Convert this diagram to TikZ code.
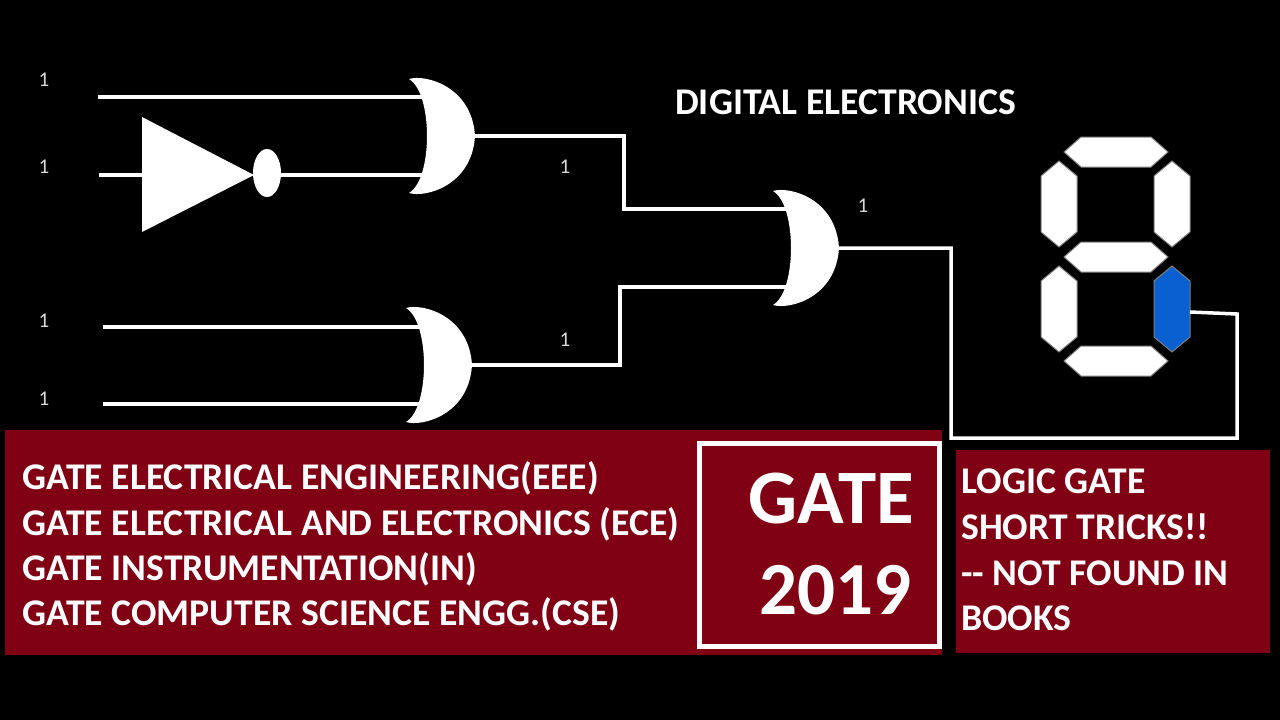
\documentclass[tikz,border=0pt]{standalone}
\usepackage{fontspec}
\setmainfont{Carlito}
\usetikzlibrary{shapes.geometric, positioning}

\definecolor{boxred}{RGB}{128,0,20}
\definecolor{segblue}{RGB}{10,96,208}

\tikzset{
    wire/.style={draw=white, line width=3.5pt, line join=miter},
    one/.style={text=white!85!black, font=\fontsize{21}{23}\selectfont},
    line/.style={text=white, anchor=base west, inner sep=0pt, font=\bfseries\fontsize{37.7}{40}\selectfont},
    big/.style={text=white, anchor=base east, inner sep=0pt, font=\bfseries\fontsize{77}{90}\selectfont},
    orgate/.pic={
        \fill[white] (-66,-57) .. controls (-50,-62) and (-3,-50) .. (0,0)
            .. controls (-3,50) and (-50,62) .. (-66,57)
            .. controls (-54,50) and (-48,25) .. (-48,0)
            .. controls (-48,-25) and (-54,-50) .. (-66,-57) -- cycle;
        \coordinate (-a) at (-53,-39);
        \coordinate (-b) at (-53,39);
        \coordinate (-out) at (0,0);
    },
    hseg/.pic={
        \draw[draw=gray, fill=white, line width=1pt] (-52,0) -- (-35,-15) -- (35,-15) -- (52,0) -- (35,15) -- (-35,15) -- cycle;
    },
    vseg/.pic={
        \draw[draw=gray, pic actions, line width=1pt] (0,-43) -- (18,-28) -- (18,28) -- (0,43) -- (-18,28) -- (-18,-28) -- cycle;
        \coordinate (-pin) at (18,3);
    },
}

\begin{document}
\begin{tikzpicture}[x=1pt, y=-1pt]
    \fill[black] (0,0) rectangle (1280,720);
    \useasboundingbox (0,0) rectangle (1280,720);

    % gates
    \pic (top) at (475,136) {orgate};
    \pic (low) at (472,365) {orgate};
    \pic (res) at (839,248) {orgate};

    \coordinate (in1) at (98,97);
    \coordinate (in2) at (99,175);
    \coordinate (in3) at (103,327);
    \coordinate (in4) at (103,404);

    % inverter
    \coordinate (invA) at (142,117);
    \coordinate (invB) at (142,232);
    \coordinate (invC) at (254,175);
    \coordinate (invIn) at (142,175);
    \fill[white] (invA) -- (invC) -- (invB) -- cycle;
    \node[ellipse, fill=white, minimum width=28pt, minimum height=48pt, inner sep=0pt] (bubble) at (267,173) {};

    % segments
    \pic at (1116,152) {hseg};
    \pic at (1116,257) {hseg};
    \pic at (1116,361) {hseg};
    \pic[fill=white] at (1059,204) {vseg};
    \pic[fill=white] at (1172,204) {vseg};
    \pic[fill=white] at (1059,309) {vseg};
    \pic[fill=segblue] (blue) at (1172,309) {vseg};

    % wires
    \draw[wire] (in1) -- (top-a |- in1);
    \draw[wire] (in2) -- (invIn);
    \draw[wire] (bubble.east |- in2) -- (top-b |- in2);
    \draw[wire] (in3) -- (low-a |- in3);
    \draw[wire] (in4) -- (low-b |- in4);
    \draw[wire] (top-out) -- (624,136) -- (624,209) -- (res-a);
    \draw[wire] (low-out) -- (620,365) -- (620,287) -- (res-b);
    \draw[wire] (res-out) -- (951,248) -- (951,438) -- (1237,438) -- (1237,314) -- (blue-pin);

    % labels
    \node[one] (l1) at (44,80) {1};
    \node[one] (l2) at (44,167) {1};
    \node[one] (l3) at (44,321) {1};
    \node[one] (l4) at (44,399) {1};
    \node[one] (l5) at (565,167) {1};
    \node[one] (l6) at (565,340) {1};
    \node[one] (l7) at (863,206) {1};

    \node[line] (title) at (675,114) {DIGITAL ELECTRONICS};

    % panels
    \fill[boxred] (5,430) rectangle (942,655);
    \fill[boxred] (956,450) rectangle (1270,653);
    \draw[draw=white, line width=5pt] (699,443) rectangle (939,646);

    \node[line] (ee) at (22,489) {GATE ELECTRICAL ENGINEERING(EEE)};
    \node[line] (ec) at (22,535) {GATE ELECTRICAL AND ELECTRONICS (ECE)};
    \node[line] (in) at (22,580) {GATE INSTRUMENTATION(IN)};
    \node[line] (cs) at (22,625) {GATE COMPUTER SCIENCE ENGG.(CSE)};

    \node[big] (gate) at (914,523) {GATE};
    \node[big, font=\bfseries\fontsize{75}{90}\selectfont] (year) at (912,614) {2019};

    \node[line] (t1) at (961,493) {LOGIC GATE};
    \node[line] (t2) at (961,539) {SHORT TRICKS!!};
    \node[line] (t3) at (961,585) {{-}{-} NOT FOUND IN};
    \node[line] (t4) at (961,630) {BOOKS};
\end{tikzpicture}
\end{document}
